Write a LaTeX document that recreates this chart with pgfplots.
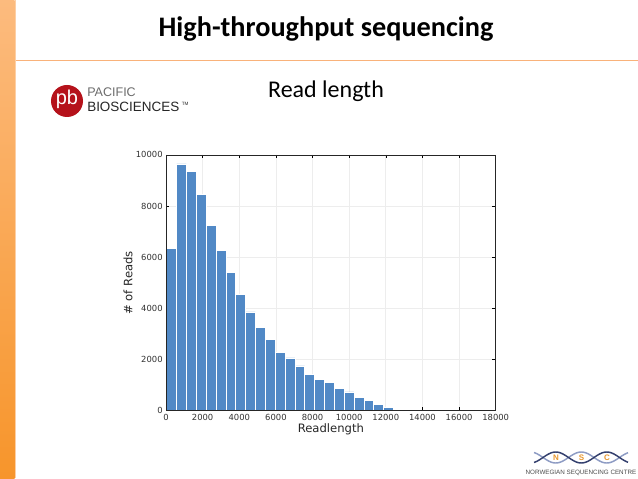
\documentclass[border=0pt]{standalone}
\usepackage{pgfplots}
\pgfplotsset{compat=1.18}
\usepackage{fontspec}
\setmainfont{Carlito}
\newfontfamily\dejavu{DejaVu Sans}
\newfontfamily\libsans{Liberation Sans}
\definecolor{stripTop}{HTML}{FCBB7E}
\definecolor{stripBot}{HTML}{F7952B}
\definecolor{lineOrange}{HTML}{F9B27A}
\definecolor{pbred}{HTML}{B5121B}
\definecolor{barblue}{HTML}{5189C6}
\definecolor{nscnavy}{HTML}{34406E}
\definecolor{nsclight}{HTML}{8E9CC4}
\definecolor{nscorange}{HTML}{E8962E}
\begin{document}
\begin{tikzpicture}[x=0.75pt,y=0.75pt]
\useasboundingbox (0,0) rectangle (638,478);
\fill[white] (0,0) rectangle (638,478);
% left orange strip
\shade[top color=stripTop, bottom color=stripBot] (0,0) rectangle (14.5,478);
\fill[stripTop!70!white] (14.5,0) rectangle (16,478);
% header rule
\draw[lineOrange, line width=1pt] (16,417.5) -- (638,417.5);
% titles
\node[anchor=base, font=\fontsize{21.2pt}{24pt}\selectfont\bfseries] at (326,441.5) {High-throughput sequencing};
\node[anchor=base, font=\fontsize{18pt}{21pt}\selectfont] at (326,380) {Read length};
% Pacific Biosciences logo
\fill[pbred] (67,377) circle (16);
\node[white, font=\libsans\fontsize{15pt}{15pt}\selectfont] at (67,379) {pb};
\node[anchor=base west, text=gray!85!black, font=\libsans\fontsize{9.4pt}{10pt}\selectfont, inner sep=0pt] at (87,381) {PACIFIC};
\node[anchor=base west, text=black!85, font=\libsans\fontsize{10.1pt}{11pt}\selectfont, inner sep=0pt] at (87,366) {BIOSCIENCES};
\node[anchor=base west, text=black!85, font=\libsans\fontsize{3.5pt}{4pt}\selectfont, inner sep=0pt] at (181.5,372) {TM};
% NSC logo
\draw[nsclight, line width=1.1pt] plot[domain=534:628, samples=80, smooth] (\x, {20.5-5.5*sin(180*(\x-543)/25.5)});
\draw[nscnavy, line width=1.1pt] plot[domain=534:628, samples=80, smooth] (\x, {20.5+5.5*sin(180*(\x-543)/25.5)});
\node[text=nscorange, font=\libsans\bfseries\fontsize{6pt}{6pt}\selectfont] at (556,20.5) {N};
\node[text=nscorange, font=\libsans\bfseries\fontsize{6pt}{6pt}\selectfont] at (581.5,20.5) {S};
\node[text=nscorange, font=\libsans\bfseries\fontsize{6pt}{6pt}\selectfont] at (607,20.5) {C};
\node[text=black!70, font=\libsans\fontsize{4.7pt}{5pt}\selectfont, inner sep=0pt] at (581,5.5) {NORWEGIAN SEQUENCING CENTRE};
% histogram
\begin{axis}[
  at={(124.5pt,50.5pt)}, anchor=south west,
  scale only axis, width=247.3pt, height=191.8pt,
  xmin=0, xmax=18000, ymin=0, ymax=10000,
  xtick={0,2000,...,18000}, ytick={0,2000,...,10000},
  scaled ticks=false,
  /pgf/number format/1000 sep={},
  /pgf/number format/assume math mode=true,
  tick label style={font=\dejavu\fontsize{6.3pt}{7pt}\selectfont, text=black!80},
  xticklabel style={yshift=1pt},
  yticklabel style={xshift=1pt},
  label style={font=\dejavu\fontsize{8.7pt}{9pt}\selectfont, text=black!85},
  xlabel={Readlength}, ylabel={\# of Reads},
  xlabel style={at={(axis description cs:0.5,-0.072)}, anchor=center},
  ylabel style={at={(axis description cs:-0.115,0.5)}, anchor=center},
  grid=major, grid style={black!7, line width=0.5pt},
  tick align=inside, major tick length=2.5pt,
  tick style={black, line width=0.4pt},
  axis line style={black!85, line width=0.6pt},
  axis on top=false,
]
\addplot[ybar, bar width=538, bar shift=0pt, fill=barblue, draw=white, line width=0.5pt] coordinates {
(309,6350) (847,9650) (1385,9370) (1923,8440) (2461,7260) (2999,6260)
(3537,5400) (4075,4550) (4613,3860) (5151,3270) (5689,2790) (6227,2290)
(6765,2060) (7303,1750) (7841,1430) (8379,1230) (8917,1100) (9455,870)
(9993,730) (10531,530) (11069,390) (11607,250) (12145,120) (12683,50)
};
\draw[black!85, line width=0.6pt] (rel axis cs:0,0) rectangle (rel axis cs:1,1);
\end{axis}
\end{tikzpicture}
\end{document}
